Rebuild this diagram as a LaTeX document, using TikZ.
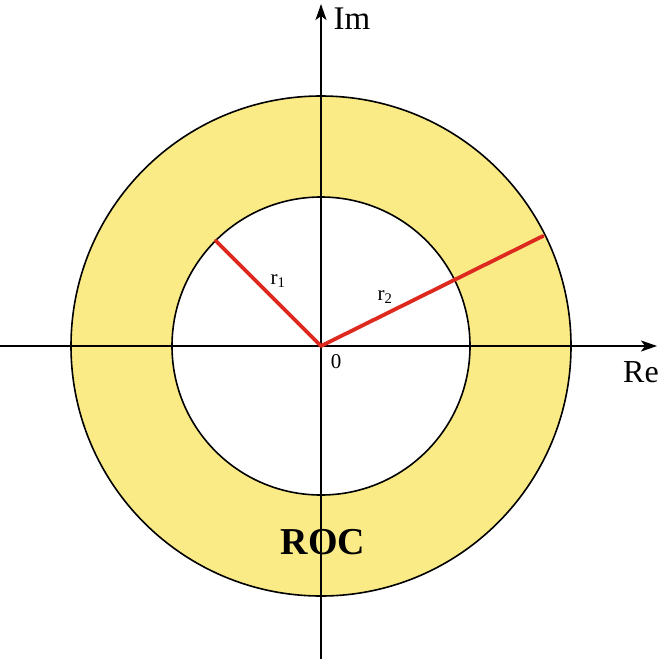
\documentclass[tikz,border=0pt]{standalone}
\usepackage{fontspec}
\setmainfont{Liberation Serif}
\usetikzlibrary{arrows.meta}
\definecolor{rocyellow}{RGB}{251,235,135}
\definecolor{rred}{RGB}{222,42,30}
\begin{document}
\begin{tikzpicture}[x=1pt,y=-1pt,
  axis/.style={line width=2pt,-{Stealth[length=16pt,width=11pt,inset=4pt]}},
  radius line/.style={rred,line width=3.8pt,line cap=round},
  circ/.style={draw=black,line width=1.6pt},
  lab/.style={font=\fontsize{21}{21}\selectfont,inner sep=0pt}]
\useasboundingbox (0,0) rectangle (663,659);
\coordinate (O) at (321,346);
\fill[rocyellow,even odd rule] (O) circle[radius=250] (O) circle[radius=149];
\draw[circ] (O) circle[radius=250];
\draw[circ,fill=white] (O) circle[radius=149];
\coordinate (xl) at (0,346);
\coordinate (xr) at (657,346);
\coordinate (yb) at (321,659);
\coordinate (yt) at (321,4);
\draw[axis] (xl) -- (xr);
\draw[axis] (yb) -- (yt);
\draw[radius line] (O) -- ++(-105.4,-105.4) coordinate (P1);
\draw[radius line] (O) -- ++(222,-110) coordinate (P2);
\node[font=\fontsize{33}{33}\selectfont] (im) at (352,19) {Im};
\node[font=\fontsize{32}{32}\selectfont] (re) at (641,372) {Re};
\node[lab] (zero) at (336,362) {0};
\node[lab] (r1) at (278,281) {r\textsubscript{1}};
\node[lab] (r2) at (385,297) {r\textsubscript{2}};
\node[font=\fontsize{38}{38}\selectfont\bfseries] (roc) at (323,542) {ROC};
\end{tikzpicture}
\end{document}
